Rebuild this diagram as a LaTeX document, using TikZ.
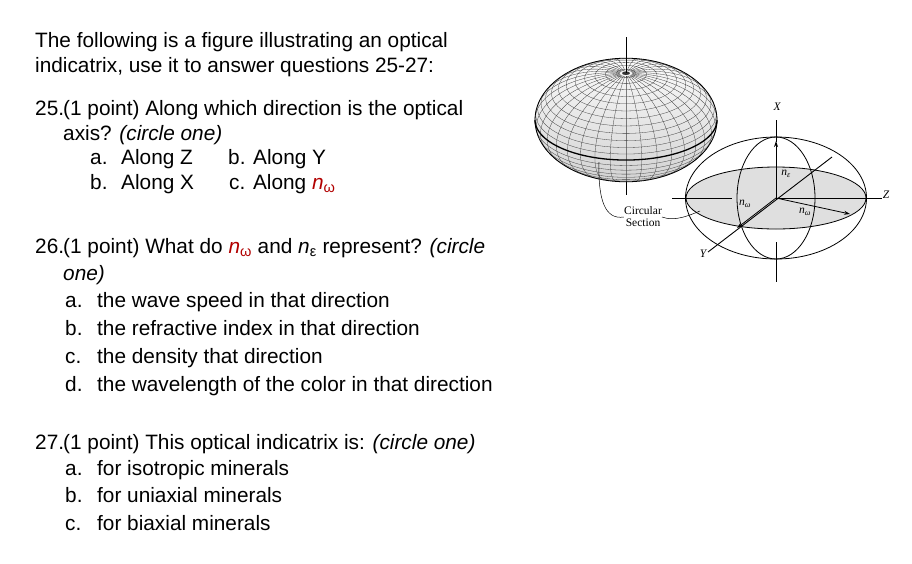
\documentclass[tikz,border=0pt]{standalone}
\usepackage{fontspec}
\setmainfont{Liberation Sans}
\newfontfamily\figfont{Liberation Serif}
\usetikzlibrary{arrows.meta}
\begin{document}
\begin{tikzpicture}[x=1pt,y=-1pt,
  txt/.style={anchor=base west,inner sep=0pt,font=\fontsize{20.8}{24}\selectfont},
  lab/.style={inner sep=0pt,font=\figfont\fontsize{11.5}{12}\selectfont\itshape},
  ax/.style={line width=0.9pt},
  arr/.style={line width=0.8pt,-{Stealth[length=6pt,width=4pt]}}]
\useasboundingbox (0,0) rectangle (912,563);
\fill[white] (0,0) rectangle (912,563);
% ---------- text ----------
\begin{scope}[yshift=-2pt]
\node[txt] (l1) at (35,45) {The following is a figure illustrating an optical};
\node[txt] (l2) at (35,70) {indicatrix, use it to answer questions 25-27:};
\node[txt] (q25) at (35,113) {25.};
\node[txt] (q25t) at (63,113) {(1 point) Along which direction is the optical};
\node[txt] (q25u) at (63,138) {axis? \textit{(circle one)}};
\node[txt] (a25a) at (90,162) {a.};
\node[txt] (a25at) at (121,162) {Along Z};
\node[txt] (a25b) at (228,162) {b. Along Y};
\node[txt] (a25c) at (90,187) {b.};
\node[txt] (a25ct) at (121,187) {Along X};
\node[txt] (a25d) at (229,187) {c. Along {\color{red!70!black}\textit{n}\textsubscript{ω}}};
\node[txt] (q26) at (35,251) {26.};
\node[txt] (q26t) at (63,251) {(1 point) What do {\color{red!70!black}\textit{n}\textsubscript{ω}} and \textit{n}\textsubscript{ε} represent? \textit{(circle}};
\node[txt] (q26u) at (63,278) {\textit{one)}};
\node[txt] (a26a) at (65,305) {a.};
\node[txt] (a26at) at (97,305) {the wave speed in that direction};
\node[txt] (a26b) at (65,333) {b.};
\node[txt] (a26bt) at (97,333) {the refractive index in that direction};
\node[txt] (a26c) at (65,361) {c.};
\node[txt] (a26ct) at (97,361) {the density that direction};
\node[txt] (a26d) at (65,389) {d.};
\node[txt] (a26dt) at (97,389) {the wavelength of the color in that direction};
\node[txt] (q27) at (35,447) {27.};
\node[txt] (q27t) at (63,447) {(1 point) This optical indicatrix is: \textit{(circle one)}};
\node[txt] (a27a) at (65,473) {a.};
\node[txt] (a27at) at (97,473) {for isotropic minerals};
\node[txt] (a27b) at (65,500) {b.};
\node[txt] (a27bt) at (97,500) {for uniaxial minerals};
\node[txt] (a27c) at (65,528) {c.};
\node[txt] (a27ct) at (97,528) {for biaxial minerals};
\end{scope}
% ---------- spheroid ----------
\def\cx{626}\def\cy{120}\def\ra{91}\def\rc{52}\def\sa{0.44}\def\ca{0.9}
\shade[top color=gray!3,bottom color=gray!35] (\cx,\cy) ellipse [x radius=91,y radius=61.8];
\foreach \p in {-42,-35,...,-7,7,14,...,84}{
  \pgfmathsetmacro\s{tan(\p)*0.856}
  \pgfmathsetmacro\t{asin(min(\s,1))}
  \pgfmathsetmacro\lo{0-\t}
  \pgfmathsetmacro\hi{180+\t}
  \draw[line width=0.3pt,black!75] plot[domain=\lo:\hi,samples=60,smooth]
    ({\cx+\ra*cos(\p)*cos(\x)},{\cy-\rc*sin(\p)*\ca+\ra*cos(\p)*sin(\x)*\sa});
}
\foreach \th in {0,10,...,350}{
  \pgfmathsetmacro\lo{atan(-sin(\th)/0.856)}
  \draw[line width=0.3pt,black!75] plot[domain=\lo:86,samples=30,smooth]
    ({\cx+\ra*cos(\x)*cos(\th)},{\cy-\rc*sin(\x)*\ca+\ra*cos(\x)*sin(\th)*\sa});
}
\draw[line width=1.3pt] plot[domain=0:180,samples=60,smooth]
    ({\cx+\ra*cos(\x)},{\cy+\ra*sin(\x)*\sa});
\draw[line width=0.8pt] (\cx,\cy) ellipse [x radius=91,y radius=61.8];
\fill[black!80] (\cx,73.2) ellipse [x radius=4,y radius=1.8];
\coordinate (pole) at (\cx,73.2);
\coordinate (top) at (\cx,37);
\draw[ax] (top) -- (pole);
\draw[ax] (\cx,182) -- (\cx,195);
% ---------- indicatrix ----------
\coordinate (O) at (776,198);
\fill[gray!25] (O) ellipse [x radius=90,y radius=31];
\draw[line width=0.8pt] (O) ellipse [x radius=90,y radius=31];
\draw[line width=0.8pt] (O) ellipse [x radius=39,y radius=61];
\draw[line width=0.8pt] (O) ellipse [x radius=90.5,y radius=61];
\draw[ax] (776,120) -- (776,142);
\draw[ax] (776,242) -- (776,282);
\draw[ax] (672,198) -- (732,198);
\draw[ax] (O) -- (882,198);
\draw[ax] (832,157) -- (708,252);
\draw[arr] (O) -- (776,141);
\draw[arr] (O) -- (737,228);
\draw[arr] (O) -- (850,214);
\node[lab] (X) at (777,107) {X};
\node[lab] (Z) at (886,195) {Z};
\node[lab] (Y) at (703,254) {Y};
\node[lab] (ne) at (786,174) {n\textsubscript{ε}};
\node[lab] (nw1) at (745,204) {n\textsubscript{ω}};
\node[lab] (nw2) at (805,212) {n\textsubscript{ω}};
\node[inner sep=0pt,align=center,font=\figfont\fontsize{11.5}{12}\selectfont] (cs) at (643,217) {Circular\\Section};
\draw[line width=0.5pt] (599,162) .. controls (598,200) and (605,220) .. (cs.west);
\draw[line width=0.5pt] (cs.east) .. controls (675,222) and (690,215) .. (700,211);
\end{tikzpicture}
\end{document}
